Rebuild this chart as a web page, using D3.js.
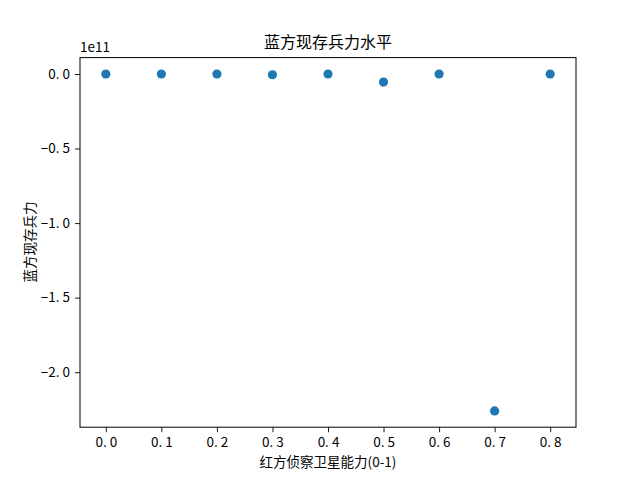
<!DOCTYPE html>
<html>
<head>
<meta charset="utf-8">
<script src="https://cdn.jsdelivr.net/npm/d3@7"></script>
<style>
  body { margin: 0; background: #fff; }
  svg text { font-family: "Noto Sans CJK SC", "DejaVu Sans", sans-serif; fill: #000; }
</style>
</head>
<body>
<svg id="vis" width="640" height="480"></svg>
<script>
// data, y in units of 1e11
const capability = [0.0, 0.1, 0.2, 0.3, 0.4, 0.5, 0.6, 0.7, 0.8];
const blueForce = [0, 0, 0, -0.005, 0, -0.054, 0, -2.26, 0];
const xTicks = [0.0, 0.1, 0.2, 0.3, 0.4, 0.5, 0.6, 0.7, 0.8];
const yTicks = [0.0, -0.5, -1.0, -1.5, -2.0];

const width = 640, height = 480;
const margin = {top: 57.6, right: 64, bottom: 52.8, left: 80};
const svg = d3.select('#vis');

const x = d3.scaleLinear().domain([-0.0465, 0.8465]).range([margin.left, width - margin.right]);
const y = d3.scaleLinear().domain([-2.369, 0.11]).range([height - margin.bottom, margin.top]);

const xAxis = svg.append('g')
  .attr('transform', `translate(0,${height - margin.bottom})`)
  .call(d3.axisBottom(x).tickValues(xTicks).tickFormat(d => d3.format('.1f')(d).replace('.', '. ')).tickSizeOuter(0).tickSize(5).tickPadding(5));
const yAxis = svg.append('g')
  .attr('transform', `translate(${margin.left},0)`)
  .call(d3.axisLeft(y).tickValues(yTicks).tickFormat(d => d3.format('.1f')(d).replace('.', '. ')).tickSizeOuter(0).tickSize(5).tickPadding(5));
[xAxis, yAxis].forEach(a => {
  a.select('.domain').remove();
  a.selectAll('line').attr('stroke', '#000').attr('stroke-width', 0.9);
  a.selectAll('text').style('font-size', '13.5px');
});

svg.append('rect')
  .attr('x', margin.left).attr('y', margin.top)
  .attr('width', width - margin.left - margin.right)
  .attr('height', height - margin.top - margin.bottom)
  .attr('fill', 'none').attr('stroke', '#000').attr('stroke-width', 1);

svg.append('g').selectAll('circle')
  .data(capability.map((c, i) => ({x: c, y: blueForce[i]})))
  .enter().append('circle')
  .attr('cx', d => x(d.x))
  .attr('cy', d => y(d.y))
  .attr('r', 4.6)
  .attr('fill', '#1f77b4');

svg.append('text').attr('x', 328).attr('y', 48).attr('text-anchor', 'middle')
  .style('font-size', '16px').text('蓝方现存兵力水平');
svg.append('text').attr('x', margin.left).attr('y', 52)
  .style('font-size', '13.5px').text('1e11');
svg.append('text').attr('x', 328).attr('y', 467).attr('text-anchor', 'middle')
  .style('font-size', '13.5px').text('红方侦察卫星能力(0-1)');
svg.append('text').attr('transform', 'translate(35,242) rotate(-90)').attr('text-anchor', 'middle')
  .style('font-size', '13.5px').text('蓝方现存兵力');
</script>
</body>
</html>
